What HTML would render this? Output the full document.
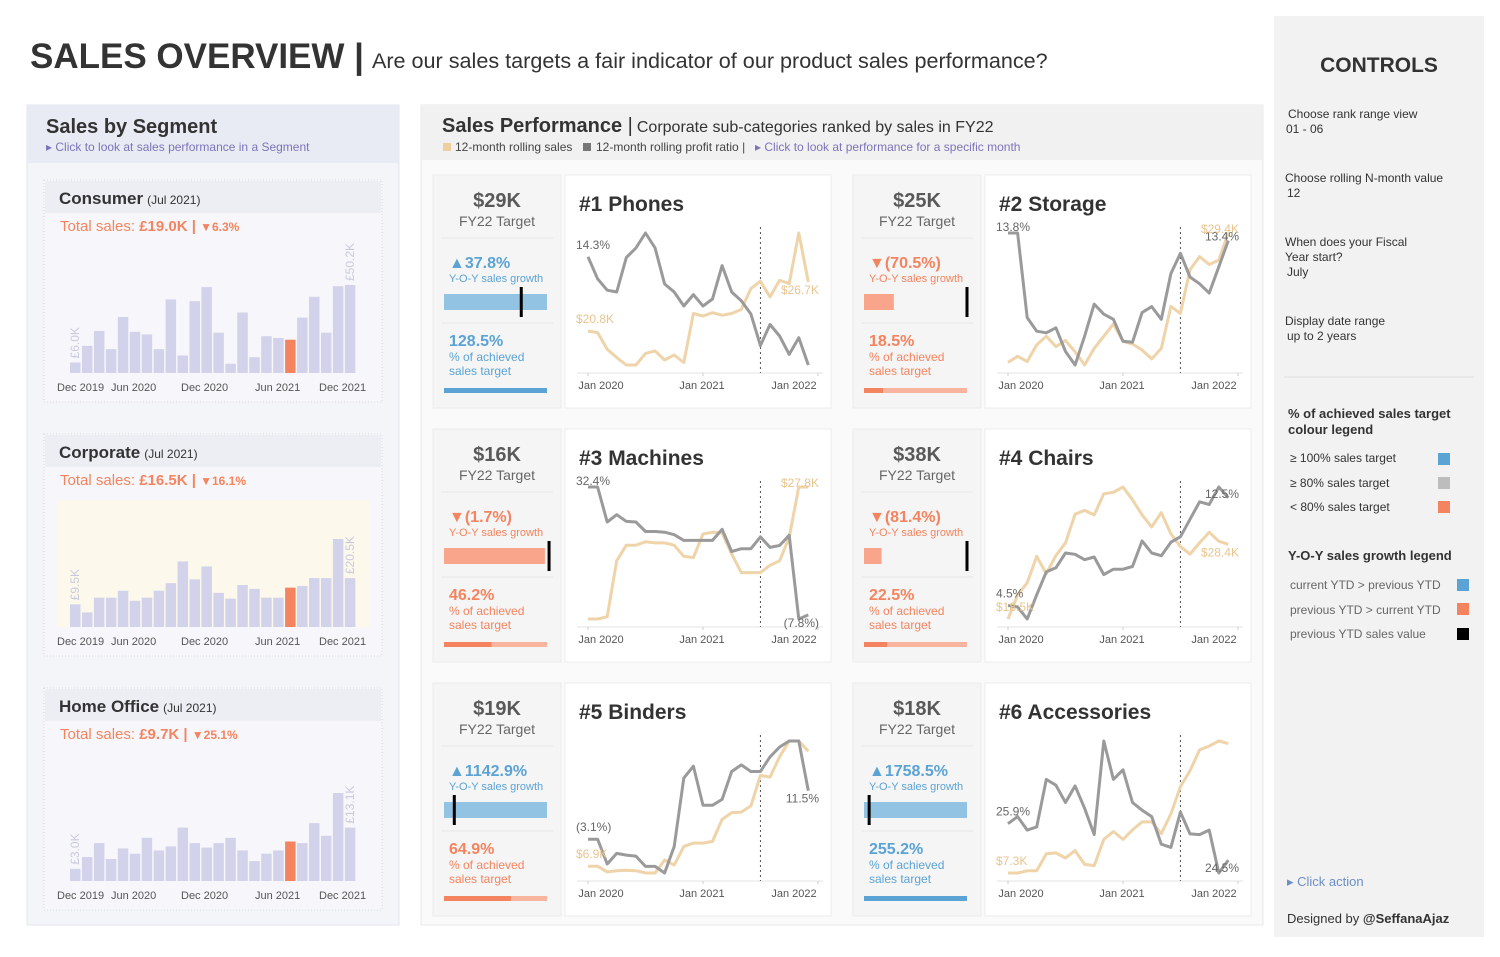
<!DOCTYPE html>
<html><head><meta charset="utf-8">
<style>
body{margin:0;background:#fff;font-family:"Liberation Sans",sans-serif;}
svg text{font-family:"Liberation Sans",sans-serif;}
</style></head>
<body>
<svg id="s" width="1500" height="952" viewBox="0 0 1500 952" xmlns="http://www.w3.org/2000/svg">
<rect width="1500" height="952" fill="#fff"/>
<text x="30" y="68" font-size="35" font-weight="bold" fill="#333">SALES OVERVIEW |<tspan font-size="21.6" font-weight="normal" dx="8">Are our sales targets a fair indicator of our product sales performance?</tspan></text>

<!-- Left panel -->
<rect x="27" y="105" width="372" height="820" fill="#f4f5f9" stroke="#e3e5ee"/>
<rect x="27" y="105" width="372" height="58" fill="#e9ebf4"/>
<text x="46" y="133" font-size="20" font-weight="bold" fill="#333">Sales by Segment</text>
<text x="46" y="151" font-size="12" fill="#7c74b8">▸ Click to look at sales performance in a Segment</text>
<g id="segs"></g>

<!-- Performance panel -->
<rect x="421" y="105" width="842" height="820" fill="#fafafa" stroke="#e8e8e8"/>
<rect x="421" y="105" width="842" height="55" fill="#f1f1f1"/>
<text x="442" y="132" font-size="20" font-weight="bold" fill="#333">Sales Performance <tspan font-weight="normal">|</tspan><tspan font-size="16" font-weight="normal" dx="4">Corporate sub-categories ranked by sales in FY22</tspan></text>
<rect x="443" y="143" width="8" height="8" fill="#efcf9f"/>
<text x="455" y="151" font-size="12" fill="#444">12-month rolling sales</text>
<rect x="583" y="143" width="8" height="8" fill="#777"/>
<text x="596" y="151" font-size="12" fill="#444">12-month rolling profit ratio |</text>
<text x="755" y="151" font-size="12" fill="#7c74b8">▸ Click to look at performance for a specific month</text>
<g id="cards"></g>

<!-- Controls -->
<rect x="1274" y="16" width="210" height="921" fill="#f2f2f2"/>
<text x="1379" y="72" font-size="21" font-weight="bold" fill="#333" text-anchor="middle">CONTROLS</text>
<g font-size="12" fill="#333">
<text x="1288" y="118">Choose rank range view<tspan x="1286" dy="15">01 - 06</tspan></text>
<text x="1285" y="182">Choose rolling N-month value<tspan x="1287" dy="15">12</tspan></text>
<text x="1285" y="246">When does your Fiscal<tspan x="1285" dy="15">Year start?</tspan><tspan x="1287" dy="15">July</tspan></text>
<text x="1285" y="325">Display date range<tspan x="1287" dy="15">up to 2 years</tspan></text>
</g>
<line x1="1284" y1="377" x2="1474" y2="377" stroke="#ddd"/>
<text x="1288" y="418" font-size="13" font-weight="bold" fill="#333">% of achieved sales target<tspan x="1288" dy="16">colour legend</tspan></text>
<g font-size="12" fill="#333">
<text x="1290" y="462">≥ 100% sales target</text><rect x="1438" y="453" width="12" height="12" fill="#5ba3d4"/>
<text x="1290" y="487">≥ 80% sales target</text><rect x="1438" y="477" width="12" height="12" fill="#bdbdbd"/>
<text x="1290" y="511">&lt; 80% sales target</text><rect x="1438" y="501" width="12" height="12" fill="#f4845f"/>
</g>
<text x="1288" y="560" font-size="13" font-weight="bold" fill="#333">Y-O-Y sales growth legend</text>
<g font-size="12" fill="#666">
<text x="1290" y="589">current YTD &gt; previous YTD</text><rect x="1457" y="579" width="12" height="12" fill="#5ba3d4"/>
<text x="1290" y="614">previous YTD &gt; current YTD</text><rect x="1457" y="603" width="12" height="12" fill="#f4845f"/>
<text x="1290" y="638">previous YTD sales value</text><rect x="1457" y="628" width="12" height="12" fill="#000"/>
</g>
<text x="1287" y="886" font-size="13" fill="#6a8fc7">▸ Click action</text>
<text x="1287" y="923" font-size="13" fill="#333">Designed by <tspan font-weight="bold">@SeffanaAjaz</tspan></text>
</svg>
<script>
// ---------- Segment bar data (K £), Jan 2020 .. Dec 2021 ----------
const segNames = ["Consumer","Corporate","Home Office"];
const segTotals = ["£19.0K","£16.5K","£9.7K"];
const segGrowth = ["▼6.3%","▼16.1%","▼25.1%"];
const consumerSales = [6.0,15.5,24,13.6,32,23.5,22,13.6,42,10,41,49,23,5.3,34.5,9,21,20,19.0,31.6,43.5,23,49.5,50.2];
const corporateSales = [9.5,6.1,12.3,12.3,15.2,11,12.3,15.2,18.4,27.5,20,25.4,14.3,11.9,17.6,16,12.3,12.3,16.5,17.2,20.5,20.5,36.9,20.5];
const homeOfficeSales = [3.0,5.9,9.3,5.4,8,6.7,10.6,7.5,8.5,13.1,9.3,8.2,9.3,10.6,7.5,4.9,6.7,7.5,9.7,9.3,14.2,11.1,21.6,13.1];
const segFirstLabels = ["£6.0K","£9.5K","£3.0K"];
const segLastLabels = ["£50.2K","£20.5K","£13.1K"];
const segTickLabels = ["Dec 2019","Jun 2020","Dec 2020","Jun 2021","Dec 2021"];
const segHighlight = 18;

// ---------- Sub-category line data, Jan 2020 .. Dec 2021 ----------
const catNames = ["#1 Phones","#2 Storage","#3 Machines","#4 Chairs","#5 Binders","#6 Accessories"];
const catTargets = ["$29K","$25K","$16K","$38K","$19K","$18K"];
const catGrowth = [37.8,-70.5,-1.7,-81.4,1142.9,1758.5];
const catGrowthBar = [1.0,0.29,0.98,0.17,1.0,1.0];
const catPrevMarker = [0.75,1.0,1.02,1.0,0.1,0.05];
const catAchieved = [128.5,18.5,46.2,22.5,64.9,255.2];
const profitPhones = [14.3,11.8,10.5,10.3,14.2,15.3,17.0,15.3,11.2,10.3,8.7,10.0,8.7,9.5,13.3,10.3,9.3,7.8,4.2,6.6,5.3,3.2,5.1,2.0];
const salesPhones = [20.8,20.6,18.6,17.6,16.7,16.7,18.1,18.4,17.3,17.9,17.0,22.9,22.6,23.0,22.7,22.9,23.4,25.9,26.8,24.9,26.9,26.5,32.6,26.7];
const profitStorage = [13.8,13.8,3.8,2.2,2.0,2.6,-0.2,-1.8,1.6,5.4,4.2,3.6,1.0,0.9,4.4,5.1,3.6,9.0,11.4,8.6,7.8,6.7,9.8,12.9];
const salesStorage = [14.6,15.3,14.7,16.6,17.6,16.4,17.1,15.8,14.3,16.2,17.6,19.0,17.0,16.7,16.0,15.0,16.2,21.0,20.2,25.2,26.7,25.8,26.3,29.4];
const profitMachines = [32.4,32.4,21.4,23.7,21.6,21.4,18.4,18.4,18.2,17.4,15.6,15.6,15.6,15.6,19.1,12.1,13.0,13.0,16.7,13.4,14.0,17.2,-9.1,-7.8];
const salesMachines = [4.2,4.2,4.6,14.6,17.4,17.4,18.0,17.8,17.8,17.4,15.4,15.2,19.4,19.7,19.6,15.8,12.5,12.5,12.5,13.8,14.6,18.8,27.8,27.8];
const profitChairs = [4.5,4.4,3.5,5.3,7.0,7.3,8.4,8.3,7.9,8.1,6.8,7.2,7.2,7.4,9.3,8.4,8.2,9.2,9.6,10.9,12.2,12.0,13.3,12.5];
const salesChairs = [18.5,21.7,23.3,26.8,24.5,26.9,28.6,32.4,32.9,32.3,35.1,35.3,36.0,34.3,32.3,30.7,32.6,29.8,28.1,27.1,28.6,30.0,28.8,28.4];
const profitBinders = [-3.1,-3.1,-10.6,-7.4,-7.9,-8.2,-11.3,-11.3,-13.3,-5.3,15.3,18.9,7.1,7.1,8.9,17.3,19.3,17.3,17.3,21.7,24.7,26.5,26.5,11.5];
const salesBinders = [6.9,6.9,5.9,6.1,6.2,6.1,5.7,5.7,8.0,7.1,10.4,11.0,11.0,11.3,15.2,16.4,16.5,17.6,23.0,22.7,26.3,29.1,29.1,27.3];
const profitAccessories = [25.9,27.0,24.9,25.4,32.8,31.9,29.2,31.8,28.3,24.2,38.8,32.8,34.3,29.2,28.0,27.0,22.7,22.2,27.7,24.3,24.2,24.9,18.2,20.2];
const salesAccessories = [7.3,7.3,7.65,7.65,10.3,10.45,9.65,10.8,8.65,8.45,12.55,13.8,12.55,14.05,15.3,15.3,13.45,16.55,20.8,23.3,26.55,27.15,27.95,27.55];
const profitFirstLabels = ["14.3%","13.8%","32.4%","4.5%","(3.1%)","25.9%"];
const profitLastLabels = ["","13.4%","(7.8%)","12.5%","11.5%","24.5%"];
const salesFirstLabels = ["$20.8K","","","$18.5K","$6.9K","$7.3K"];
const salesLastLabels = ["$26.7K","$29.4K","$27.8K","$28.4K","",""];
const lineTickLabels = ["Jan 2020","Jan 2021","Jan 2022"];
const selectedMonth = 18;

const NS="http://www.w3.org/2000/svg";
function mk(tag,attrs,parent,txt){const e=document.createElementNS(NS,tag);for(const k in attrs)e.setAttribute(k,attrs[k]);if(txt!==undefined)e.textContent=txt;parent.appendChild(e);return e;}

// ---------- Segments ----------
const segData=[consumerSales,corporateSales,homeOfficeSales];
const segG=document.getElementById('segs');
segData.forEach((vals,si)=>{
  const top=180+si*254;
  const card=mk('rect',{x:44,y:top,width:338,height:222,fill:"#f7f7fb",stroke:"#d9d9e3","stroke-dasharray":"1 2"},segG);
  
  
  mk('rect',{x:45,y:top+1,width:336,height:32,fill:"#eceef4"},segG);
  const t=mk('text',{x:59,y:top+24,"font-size":17,"font-weight":"bold",fill:"#333"},segG,segNames[si]);
  
  
  mk('tspan',{"font-size":12,"font-weight":"normal",dx:4},t,"(Jul 2021)");
  const tot=mk('text',{x:60,y:top+51,"font-size":15,fill:"#f4845f"},segG,"Total sales: ");
  
  
  mk('tspan',{"font-weight":"bold"},tot,segTotals[si]+" | ");
  mk('tspan',{"font-weight":"bold","font-size":12},tot,segGrowth[si]);
  if(si===1) mk('rect',{x:57,y:top+66,width:313,height:127,fill:"#fdf8ec"},segG);
  const base=top+193, maxH=88, mx=Math.max(...vals);
  const x0=70,pitch=11.95,bw=10.5;
  const yScale=v=>base-v/mx*maxH;
  vals.forEach((v,i)=>{
    const r=mk('rect',{x:x0+i*pitch,y:yScale(v),width:bw,height:base-yScale(v),fill:i===segHighlight?"#f4845f":"#d2d2ea"},segG);
    
    
  });
  const lbl=(txt,i)=>{const x=x0+i*pitch+bw/2+4,y=yScale(vals[i])-4;
    const e=mk('text',{x:x,y:y,"font-size":12,fill:"#c9c9dc",transform:`rotate(-90 ${x} ${y})`},segG,txt);
    
    };
  lbl(segFirstLabels[si],0); lbl(segLastLabels[si],vals.length-1);
  const tx=[57,111,181,255,319];
  segTickLabels.forEach((s,k)=>{const e=mk('text',{x:tx[k],y:base+18,"font-size":11,fill:"#555"},segG,s);
    
    });
});

// ---------- Cards ----------
const profits=[profitPhones,profitStorage,profitMachines,profitChairs,profitBinders,profitAccessories];
const sales=[salesPhones,salesStorage,salesMachines,salesChairs,salesBinders,salesAccessories];
const cg=document.getElementById('cards');
const BLUE="#5ba3d4",BLUEL="#93c3e3",OR="#f4845f",ORL="#f9b4a0";
const tickLabelOffsets=[36,137,229];
catNames.forEach((name,ci)=>{
  const col=ci%2,row=Math.floor(ci/2);
  const top=175+row*254, kl=433+col*420, cl=565+col*420;
  const kp=mk('rect',{x:kl,y:top,width:128,height:233,fill:"#f5f5f5",stroke:"#ececec"},cg);
  
  
  const ch=mk('rect',{x:cl,y:top,width:266,height:233,fill:"#fff",stroke:"#ececec"},cg);
  
  
  const cx=kl+64;
  let e=mk('text',{x:cx,y:top+32,"font-size":20,"font-weight":"bold",fill:"#595959","text-anchor":"middle"},cg,catTargets[ci]);
  
  
  mk('text',{x:cx,y:top+51,"font-size":14,fill:"#666","text-anchor":"middle"},cg,"FY22 Target");
  mk('line',{x1:kl+8,y1:top+63,x2:kl+120,y2:top+63,stroke:"#e6e6e6"},cg);
  const up=catGrowth[ci]>=0, gc=up?BLUE:OR;
  const gtxt=up?"▲"+catGrowth[ci].toFixed(1)+"%":"▼("+Math.abs(catGrowth[ci]).toFixed(1)+"%)";
  e=mk('text',{x:kl+16,y:top+93,"font-size":16,"font-weight":"bold",fill:gc},cg,gtxt);
  
  
  mk('text',{x:kl+16,y:top+107,"font-size":11,fill:gc},cg,"Y-O-Y sales growth");
  const bx=kl+11,bwid=103;
  e=mk('rect',{x:bx,y:top+119,width:bwid*catGrowthBar[ci],height:16,fill:up?BLUEL:"#f8a58c"},cg);
  
  
  e=mk('rect',{x:bx+bwid*catPrevMarker[ci]-1.5,y:top+112,width:3,height:30,fill:"#000"},cg);
  
  
  mk('line',{x1:kl+8,y1:top+148,x2:kl+120,y2:top+148,stroke:"#e6e6e6"},cg);
  const ac=catAchieved[ci]>=100?BLUE:OR;
  e=mk('text',{x:kl+16,y:top+171,"font-size":16,"font-weight":"bold",fill:ac},cg,catAchieved[ci].toFixed(1)+"%");
  
  
  mk('text',{x:kl+16,y:top+186,"font-size":12,fill:ac},cg,"% of achieved");
  mk('text',{x:kl+16,y:top+200,"font-size":12,fill:ac},cg,"sales target");
  const frac=Math.min(1,catAchieved[ci]/100);
  if(frac<1) mk('rect',{x:bx,y:top+213,width:bwid,height:5,fill:ORL},cg);
  e=mk('rect',{x:bx,y:top+213,width:bwid*frac,height:5,fill:frac<1?OR:BLUE},cg);
  
  
  // chart
  e=mk('text',{x:cl+14,y:top+36,"font-size":21,"font-weight":"bold",fill:"#333"},cg,name);
  
  
  const px0=cl+23,step=9.58,yt=top+58,yb=top+190,axisY=top+198;
  const xS=i=>px0+i*step;
  const yS=(v,arr)=>{const mn=Math.min(...arr),mx=Math.max(...arr);return yb-(v-mn)/(mx-mn)*(yb-yt);};
  mk('line',{x1:cl+12,y1:axisY,x2:cl+258,y2:axisY,stroke:"#e3e3e3"},cg);
  lineTickLabels.forEach((s,k)=>{const tx=xS(k*12);
    mk('line',{x1:tx,y1:axisY,x2:tx,y2:axisY+3,stroke:"#ccc"},cg);
    const t=mk('text',{x:cl+tickLabelOffsets[k],y:axisY+16,"font-size":11,fill:"#555","text-anchor":"middle"},cg,s);
    
    });
  e=mk('line',{x1:xS(selectedMonth),y1:top+52,x2:xS(selectedMonth),y2:axisY,stroke:"#555","stroke-dasharray":"2 3"},cg);
  
  
  const drawLine=(arr,color,nm)=>{
    const d=arr.map((v,i)=>(i?"L":"M")+xS(i).toFixed(1)+","+yS(v,arr).toFixed(1)).join("");
    const p=mk('path',{d:d,fill:"none",stroke:color,"stroke-width":3,"stroke-linejoin":"round"},cg);
    
    };
  drawLine(sales[ci],"#efd3a9","rolling-sales-line");
  drawLine(profits[ci],"#9a9a9a","rolling-profit-line");
  const lab=(txt,arr,first,color)=>{if(!txt)return;const i=first?0:arr.length-1;
    const y=yS(arr[i],arr);const ly=first?y-8:(y<yt+20?y+0:y+12);
    const t=mk('text',{x:first?cl+11:cl+254,y:Math.max(ly,yt-2),"font-size":12,fill:color,"text-anchor":first?"start":"end"},cg,txt);
    
    };
  lab(profitFirstLabels[ci],profits[ci],true,"#666");
  lab(profitLastLabels[ci],profits[ci],false,"#666");
  lab(salesFirstLabels[ci],sales[ci],true,"#e9c48f");
  lab(salesLastLabels[ci],sales[ci],false,"#e9c48f");
});
</script>
</body></html>
